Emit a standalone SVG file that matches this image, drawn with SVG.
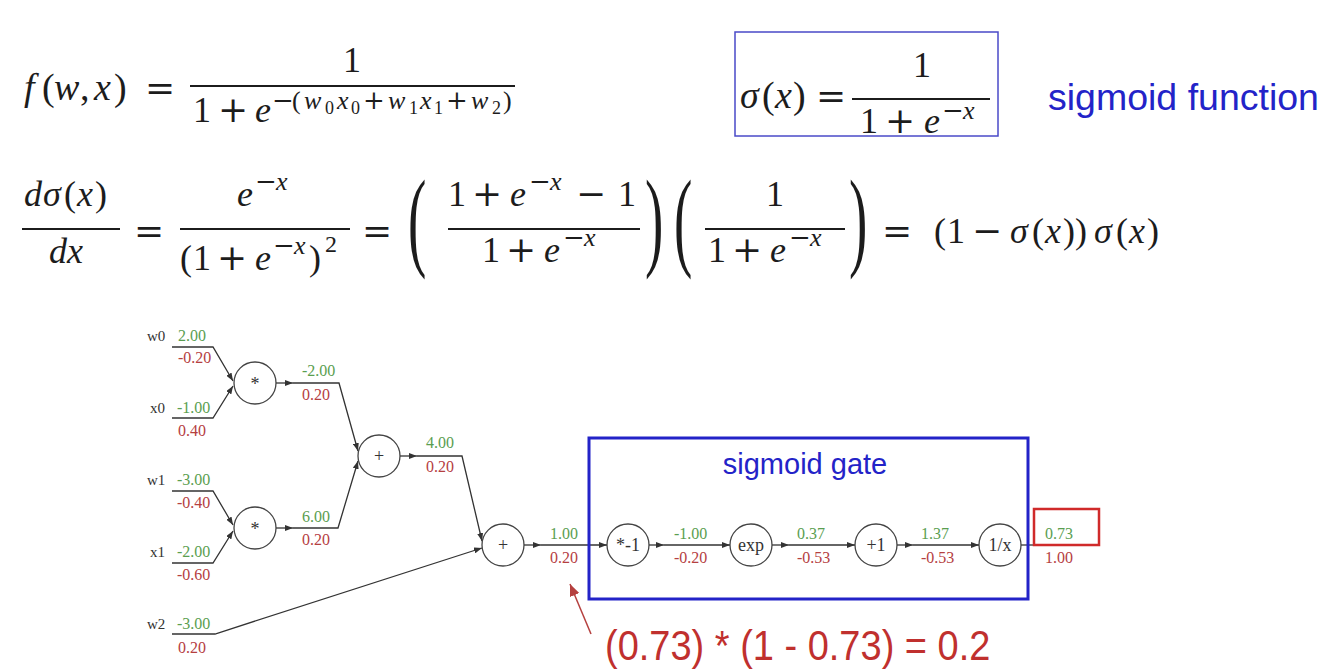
<svg xmlns="http://www.w3.org/2000/svg" width="1334" height="670" viewBox="0 0 1334 670">
<style>
.m{font-family:"Liberation Serif","DejaVu Serif",serif;fill:#1c1c1c}
.i{font-style:italic}
.op{font-family:"DejaVu Serif","Liberation Serif",serif}
.bar{stroke:#1c1c1c;stroke-width:2}
.blue{font-family:"Liberation Sans",Arial,sans-serif;fill:#2323c8}
.g{font-family:"Liberation Serif",serif;font-size:16px;fill:#5a9e50}
.r{font-family:"Liberation Serif",serif;font-size:16px;fill:#b5403f}
.lbl{font-family:"Liberation Serif",serif;font-size:15px;fill:#333}
.e{stroke:#333;stroke-width:1.3;fill:none}
.nd circle{fill:#fff;stroke:#444;stroke-width:1.3}
.nd text{font-family:"Liberation Serif",serif;font-size:18px;fill:#333;text-anchor:middle}
</style>
<defs>
<marker id="a" markerWidth="8" markerHeight="6" refX="8" refY="3" orient="auto" markerUnits="userSpaceOnUse"><path d="M0,0 L8,3 L0,6 z" fill="#333"/></marker>
<marker id="ra" markerWidth="12" markerHeight="10" refX="12" refY="5" orient="auto" markerUnits="userSpaceOnUse"><path d="M0,0 L12,5 L0,10 z" fill="#b5403f"/></marker>
</defs>
<rect width="1334" height="670" fill="#fff"/>

<!-- Formula 1 -->
<g id="formula-f">
<text class="m" font-size="38" y="100"><tspan class="i" x="24">f</tspan><tspan x="42">(</tspan><tspan class="i" x="54">w</tspan><tspan x="80">,</tspan><tspan class="i" x="94">x</tspan><tspan x="114">)</tspan></text>
<text class="m op" font-size="36" x="145" y="100">=</text>
<line class="bar" x1="190" y1="86" x2="515" y2="86"/>
<text class="m" font-size="36" x="352" y="72" text-anchor="middle">1</text>
<text class="m" font-size="36" y="122"><tspan x="193">1</tspan><tspan class="op" x="218">+</tspan><tspan class="i" x="255">e</tspan></text>
<text class="m" font-size="26" y="109"><tspan class="op" x="272">−</tspan><tspan x="292">(</tspan><tspan class="i" x="304">w</tspan><tspan x="325" dy="5" font-size="18">0</tspan><tspan class="i" x="337" dy="-5">x</tspan><tspan x="351" dy="5" font-size="18">0</tspan><tspan class="op" x="363" dy="-5">+</tspan><tspan class="i" x="388">w</tspan><tspan x="409" dy="5" font-size="18">1</tspan><tspan class="i" x="420" dy="-5">x</tspan><tspan x="434" dy="5" font-size="18">1</tspan><tspan class="op" x="446" dy="-5">+</tspan><tspan class="i" x="471">w</tspan><tspan x="492" dy="5" font-size="18">2</tspan><tspan x="503" dy="-5">)</tspan></text>
</g>

<!-- Sigma box -->
<g id="sigmoid-def">
<rect x="735" y="32" width="263" height="104" fill="none" stroke="#4a4ac8" stroke-width="1.5"/>
<text class="m" font-size="38" y="108"><tspan class="i" x="740">σ</tspan><tspan x="762">(</tspan><tspan class="i" x="775">x</tspan><tspan x="793">)</tspan></text>
<text class="m op" font-size="36" x="816" y="108">=</text>
<line class="bar" x1="852" y1="99" x2="990" y2="99"/>
<text class="m" font-size="36" x="922" y="77" text-anchor="middle">1</text>
<text class="m" font-size="36" y="133"><tspan x="860">1</tspan><tspan class="op" x="885">+</tspan><tspan class="i" x="924">e</tspan></text>
<text class="m" font-size="26" y="119"><tspan class="op" x="942">−</tspan><tspan class="i" x="963">x</tspan></text>
</g>
<text id="sigmoid-label" class="blue" font-size="37.5" x="1048" y="110">sigmoid function</text>

<!-- Derivative row -->
<g id="derivative">
<text class="m" font-size="36" y="206"><tspan class="i" x="24">d</tspan><tspan class="i" x="43">σ</tspan><tspan x="64">(</tspan><tspan class="i" x="77">x</tspan><tspan x="95">)</tspan></text>
<line class="bar" x1="22" y1="229" x2="120" y2="229"/>
<text class="m i" font-size="36" x="49" y="263">dx</text>
<text class="m op" font-size="36" x="134" y="243">=</text>
<line class="bar" x1="180" y1="229" x2="350" y2="229"/>
<text class="m i" font-size="36" x="237" y="206">e</text>
<text class="m" font-size="26" y="190"><tspan class="op" x="255">−</tspan><tspan class="i" x="276">x</tspan></text>
<text class="m" font-size="36" y="270"><tspan x="180">(</tspan><tspan x="193">1</tspan><tspan class="op" x="217">+</tspan><tspan class="i" x="255">e</tspan></text>
<text class="m" font-size="26" y="254"><tspan class="op" x="273">−</tspan><tspan class="i" x="294">x</tspan></text>
<text class="m" font-size="36" x="309" y="270">)</text>
<text class="m" font-size="24" x="325" y="252">2</text>
<text class="m op" font-size="36" x="362" y="243">=</text>
<text class="m" font-size="110" transform="translate(408,256) scale(0.5,1)">(</text>
<text class="m" font-size="36" y="206"><tspan x="448">1</tspan><tspan class="op" x="472">+</tspan><tspan class="i" x="510">e</tspan></text>
<text class="m" font-size="26" y="190"><tspan class="op" x="529">−</tspan><tspan class="i" x="550">x</tspan></text>
<text class="m" font-size="36" y="206"><tspan class="op" x="576">−</tspan><tspan x="618">1</tspan></text>
<line class="bar" x1="448" y1="229" x2="640" y2="229"/>
<text class="m" font-size="36" y="262"><tspan x="482">1</tspan><tspan class="op" x="506">+</tspan><tspan class="i" x="544">e</tspan></text>
<text class="m" font-size="26" y="246"><tspan class="op" x="563">−</tspan><tspan class="i" x="584">x</tspan></text>
<text class="m" font-size="110" transform="translate(645,256) scale(0.5,1)">)</text>
<text class="m" font-size="110" transform="translate(674,256) scale(0.5,1)">(</text>
<text class="m" font-size="36" x="775" y="206" text-anchor="middle">1</text>
<line class="bar" x1="705" y1="229" x2="845" y2="229"/>
<text class="m" font-size="36" y="262"><tspan x="708">1</tspan><tspan class="op" x="732">+</tspan><tspan class="i" x="770">e</tspan></text>
<text class="m" font-size="26" y="246"><tspan class="op" x="789">−</tspan><tspan class="i" x="810">x</tspan></text>
<text class="m" font-size="110" transform="translate(849,256) scale(0.5,1)">)</text>
<text class="m op" font-size="36" x="882" y="243">=</text>
<text class="m" font-size="36" y="243"><tspan x="934">(</tspan><tspan x="947">1</tspan><tspan class="op" x="972">−</tspan><tspan class="i" x="1010">σ</tspan><tspan x="1032">(</tspan><tspan class="i" x="1045">x</tspan><tspan x="1063">))</tspan><tspan class="i" x="1094">σ</tspan><tspan x="1116">(</tspan><tspan class="i" x="1129">x</tspan><tspan x="1147">)</tspan></text>
</g>

<!-- Connectors -->
<g id="connectors">
<path class="e" d="M172,347 L213,347 L233,381" marker-end="url(#a)"/>
<path class="e" d="M172,418 L213,418 L233,386" marker-end="url(#a)"/>
<path class="e" d="M172,491 L213,491 L233,525" marker-end="url(#a)"/>
<path class="e" d="M172,563 L213,563 L233,531" marker-end="url(#a)"/>
<path class="e" d="M276,383 L293,383" marker-end="url(#a)"/>
<path class="e" d="M293,383 L339,383 L358,451" marker-end="url(#a)"/>
<path class="e" d="M276,528 L293,528" marker-end="url(#a)"/>
<path class="e" d="M293,528 L338,528 L358,461" marker-end="url(#a)"/>
<path class="e" d="M400,456 L417,456" marker-end="url(#a)"/>
<path class="e" d="M417,456 L462,456 L482,541" marker-end="url(#a)"/>
<path class="e" d="M172,634 L215,634 L482,548" marker-end="url(#a)"/>
<path class="e" d="M524,545 L541,545" marker-end="url(#a)"/>
<path class="e" d="M541,545 L607,545" marker-end="url(#a)"/>
<path class="e" d="M649,545 L664,545" marker-end="url(#a)"/>
<path class="e" d="M664,545 L730,545" marker-end="url(#a)"/>
<path class="e" d="M772,545 L789,545" marker-end="url(#a)"/>
<path class="e" d="M789,545 L855,545" marker-end="url(#a)"/>
<path class="e" d="M897,545 L913,545" marker-end="url(#a)"/>
<path class="e" d="M913,545 L979,545" marker-end="url(#a)"/>
<path class="e" d="M1021,545 L1034,545"/>
<path d="M591,634 L570,584" stroke="#b5403f" stroke-width="1.5" fill="none" marker-end="url(#ra)"/>
</g>

<!-- Inputs -->
<g id="in-w0"><text class="lbl" x="147" y="341">w0</text><text class="g" x="178" y="341">2.00</text><text class="r" x="178" y="363">-0.20</text></g>
<g id="in-x0"><text class="lbl" x="150" y="413">x0</text><text class="g" x="177" y="413">-1.00</text><text class="r" x="178" y="436">0.40</text></g>
<g id="in-w1"><text class="lbl" x="147" y="485">w1</text><text class="g" x="177" y="485">-3.00</text><text class="r" x="177" y="508">-0.40</text></g>
<g id="in-x1"><text class="lbl" x="150" y="557">x1</text><text class="g" x="177" y="557">-2.00</text><text class="r" x="177" y="580">-0.60</text></g>
<g id="in-w2"><text class="lbl" x="147" y="629">w2</text><text class="g" x="177" y="629">-3.00</text><text class="r" x="178" y="653">0.20</text></g>

<!-- Value labels -->
<g id="vals">
<text class="g" x="302" y="376">-2.00</text><text class="r" x="302" y="400">0.20</text>
<text class="g" x="302" y="522">6.00</text><text class="r" x="302" y="545">0.20</text>
<text class="g" x="426" y="448">4.00</text><text class="r" x="426" y="472">0.20</text>
<text class="g" x="550" y="539">1.00</text><text class="r" x="550" y="563">0.20</text>
<text class="g" x="674" y="539">-1.00</text><text class="r" x="674" y="563">-0.20</text>
<text class="g" x="797" y="539">0.37</text><text class="r" x="797" y="563">-0.53</text>
<text class="g" x="921" y="539">1.37</text><text class="r" x="921" y="563">-0.53</text>
<text class="g" x="1045" y="539">0.73</text><text class="r" x="1045" y="563">1.00</text>
</g>

<!-- Nodes -->
<g id="n-mul0" class="nd"><circle cx="255" cy="383" r="21"/><text x="255" y="390" font-size="16">*</text></g>
<g id="n-mul1" class="nd"><circle cx="255" cy="528" r="21"/><text x="255" y="535" font-size="16">*</text></g>
<g id="n-add0" class="nd"><circle cx="379" cy="456" r="21"/><text x="379" y="462">+</text></g>
<g id="n-add1" class="nd"><circle cx="503" cy="545" r="21"/><text x="503" y="551">+</text></g>
<g id="n-neg" class="nd"><circle cx="628" cy="545" r="21"/><text x="628" y="551">*-1</text></g>
<g id="n-exp" class="nd"><circle cx="751" cy="545" r="21"/><text x="751" y="551">exp</text></g>
<g id="n-add2" class="nd"><circle cx="876" cy="545" r="21"/><text x="876" y="551">+1</text></g>
<g id="n-inv" class="nd"><circle cx="1000" cy="545" r="21"/><text x="1000" y="551">1/x</text></g>

<!-- Sigmoid gate box -->
<g id="sigmoid-gate">
<rect x="589" y="438" width="439" height="161" fill="none" stroke="#2323c8" stroke-width="3"/>
<text class="blue" font-size="29" x="805" y="474" text-anchor="middle">sigmoid gate</text>
</g>
<g id="output-box"><rect x="1034" y="509" width="65" height="36" fill="none" stroke="#d02a2a" stroke-width="2.5"/></g>
<text id="annotation" transform="translate(605,660) scale(1,1.1)" font-family="Liberation Sans,Arial,sans-serif" font-size="38" fill="#c0302e">(0.73) * (1 - 0.73) = 0.2</text>
</svg>
